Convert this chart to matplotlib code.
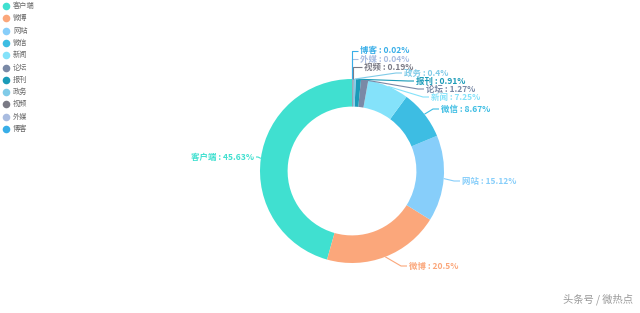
import numpy as np
import matplotlib
matplotlib.use('Agg')
import matplotlib.pyplot as plt

plt.rcParams['font.family'] = ['Noto Sans CJK SC', 'DejaVu Sans']

# data
names = ['客户端', '微博', '网站', '微信', '新闻', '论坛', '报刊', '政务', '视频', '外媒', '博客']
shares = [45.63, 20.5, 15.12, 8.67, 7.25, 1.27, 0.91, 0.4, 0.19, 0.04, 0.02]
share_txt = ['45.63%', '20.5%', '15.12%', '8.67%', '7.25%', '1.27%', '0.91%', '0.4%', '0.19%', '0.04%', '0.02%']
colors = ['#40E0D0', '#FBA77B', '#87CEFA', '#3DBDE3', '#84E2FA', '#7A89A6',
          '#1A9BB8', '#80CBE8', '#7A7A85', '#A9BCE0', '#38AEE8']

# label placement in pixels (x of text anchor, y, alignment)
label_pos = {
    '客户端': (254, 157, 'right'),
    '微博': (409, 266, 'left'),
    '网站': (462, 181, 'left'),
    '微信': (441, 109, 'left'),
    '新闻': (431, 97, 'left'),
    '论坛': (426, 89, 'left'),
    '报刊': (416, 81, 'left'),
    '政务': (404, 73, 'left'),
    '视频': (364, 67, 'left'),
    '外媒': (360, 59, 'left'),
    '博客': (360, 51, 'left'),
}

W, H = 640, 313
cx, cy, R = 352, 171, 92

fig = plt.figure(figsize=(6.4, 3.13), dpi=100)
ax = fig.add_axes([0, 0, 1, 1])

ax.pie(shares, colors=colors, startangle=90, counterclock=True,
       radius=1.0, wedgeprops=dict(width=0.3, linewidth=0))

ax.set_aspect('auto')
ax.set_xlim(-cx / R, (W - cx) / R)
ax.set_ylim(-(H - cy) / R, cy / R)
ax.axis('off')


def px(x, y):
    return (x - cx) / R, (cy - y) / R


# labels with leader lines
start = 0.0
for n, s, t, c in zip(names, shares, share_txt, colors):
    mid = 90 + (start + s / 2) / 100 * 360
    start += s
    a = np.deg2rad(mid)
    ox, oy = np.cos(a), np.sin(a)
    lx, ly, ha = label_pos[n]
    tx, ty = px(lx, ly)
    if ha == 'left':
        ex = tx - 8 / R
        if n in ('视频', '外媒', '博客'):
            ex = ox
    else:
        ex = tx + 4 / R
    ax.plot([ox, ex, tx - (2 / R if ha == 'left' else -2 / R)], [oy, ty, ty],
            color=c, lw=0.8, solid_capstyle='butt')
    ax.text(tx, ty, n + ' : ' + t, ha=ha, va='center', fontsize=6.1,
            color=c, fontweight='bold')

# legend
for i, (n, c) in enumerate(zip(names, colors)):
    lx, ly = px(6, 6 + i * 12.3)
    ax.scatter([lx], [ly], s=30, color=c, linewidths=0)
    ax.text(lx + 7 / R, ly, n, ha='left', va='center', fontsize=5.2, color='#666666')

# watermark
wx, wy = px(633, 299)
ax.text(wx, wy, '头条号 / 微热点', ha='right', va='center', fontsize=7.4, color='#999999')

fig.savefig('out.png', dpi=100)
